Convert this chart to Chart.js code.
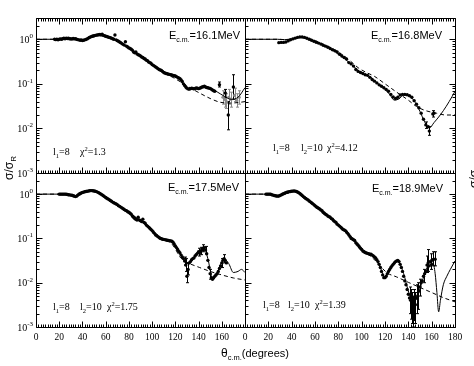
<!DOCTYPE html>
<html>
<head>
<meta charset="utf-8">
<script src="https://cdn.jsdelivr.net/npm/chart.js@4.4.0/dist/chart.umd.min.js"></script>
<style>
  html, body { margin: 0; padding: 0; background: #fff; }
  #wrap { position: relative; width: 474px; height: 366px; overflow: hidden; background: #fff; }
  #wrap canvas { position: absolute; left: 0; top: 0; }
</style>
</head>
<body>
<div id="wrap">
  <canvas id="p1" width="474" height="366"></canvas>
  <canvas id="p2" width="474" height="366"></canvas>
  <canvas id="p3" width="474" height="366"></canvas>
  <canvas id="p4" width="474" height="366"></canvas>
</div>
<script>
// axis ticks / labels
const xLabelsLeft = [0, 20, 40, 60, 80, 100, 120, 140, 160];
const xLabelsRight = [0, 20, 40, 60, 80, 100, 120, 140, 160, 180];
const yDecades = [0, -1, -2, -3];
const energies = ['16.1', '16.8', '17.5', '18.9'];
const chi2 = ['1.3', '4.12', '1.75', '1.39'];

// 16.1 MeV
const p1Points = [[16,1.0],[17,0.98],[18,1.01],[19,0.97],[20,1.0],[21,1.02],[22,1.0],[23,1.03],[24,1.05],[25,1.03],[26,1.06],[27,1.04],[28,1.05],[29,1.02],[30,1.03],[31,1.01],[32,1.04],[33,1.02],[34,1.03],[35,1.0],[36,0.98],[37,0.97],[38,0.95],[39,0.96],[40,0.94],[41,0.95],[42,0.97],[43,0.99],[44,1.02],[45,1.06],[46,1.1],[47,1.13],[48,1.16],[49,1.18],[50,1.2],[51,1.22],[52,1.24],[53,1.25],[54,1.27],[55,1.28],[56,1.26],[57,1.3],[58,1.22],[59,1.2],[60,1.17],[61,1.15],[62,1.12],[63,1.1],[64,1.08],[65,1.06],[66,1.03],[67,1.0],[68,1.25],[69,0.97],[70,0.93],[71,0.9],[72,0.87],[73,0.84],[74,0.8],[75,0.77],[76,0.74],[77,0.88],[78,0.7],[79,0.67],[80,0.64],[81,0.62],[82,0.6],[83,0.57],[84,0.52],[85,0.5],[86,0.52],[87,0.47],[88,0.45],[89,0.44],[90,0.42],[91,0.4],[92,0.39],[93,0.37],[94,0.36],[95,0.34],[96,0.33],[97,0.31],[98,0.3],[99,0.29],[100,0.27],[101,0.26],[102,0.25],[103,0.24],[104,0.23],[105,0.22],[106,0.21],[107,0.205],[108,0.2],[109,0.19],[110,0.18],[111,0.175],[112,0.17],[113,0.168],[114,0.165],[115,0.163],[116,0.16],[117,0.158],[118,0.155],[119,0.152],[120,0.15],[121,0.145],[122,0.14],[123,0.135],[124,0.13],[125,0.122],[126,0.113],[127,0.1],[128,0.092],[129,0.085],[130,0.08],[131,0.077],[132,0.076],[133,0.078],[134,0.08],[135,0.079],[136,0.077],[137,0.079],[138,0.081],[139,0.08],[140,0.078],[141,0.08],[142,0.082],[143,0.085],[144,0.086],[145,0.088],[146,0.085],[147,0.083],[148,0.082],[149,0.08],[150,0.079],[151,0.076],[152,0.073],[153,0.07],[154,0.068],[158,0.096],[163,0.062],[165.6,0.02],[170,0.085]];
const p1Grey = [[161,0.05],[162.5,0.045],[164,0.04],[166,0.05],[168,0.045],[171,0.055],[173,0.042],[175,0.05]];
const p1Errors = [[158,0.085,0.11],[163,0.05,0.075],[165.6,0.0093,0.04],[170,0.045,0.16]];
const p1GreyErrors = [[161,0.035,0.07],[162.5,0.03,0.065],[164,0.028,0.06],[166,0.035,0.075],[168,0.03,0.065],[171,0.04,0.08],[173,0.03,0.06],[175,0.035,0.07]];
const p1Solid = [[0,1.0],[16,1.0],[22,1.03],[28,1.04],[34,1.01],[40,0.95],[44,0.99],[48,1.12],[52,1.21],[56,1.25],[60,1.17],[66,1.02],[72,0.86],[78,0.7],[84,0.54],[90,0.42],[96,0.33],[102,0.25],[108,0.2],[114,0.165],[120,0.15],[124,0.13],[128,0.093],[132,0.077],[138,0.08],[144,0.085],[150,0.079],[156,0.066],[162,0.053],[168,0.045],[174,0.05],[180,0.082]];
const p1Dashed = [[0,1.0],[16,1.0],[30,1.02],[40,0.97],[48,1.1],[55,1.2],[62,1.12],[70,0.9],[80,0.62],[90,0.42],[100,0.28],[107,0.2],[120,0.13],[130,0.09],[140,0.064],[150,0.047],[158,0.039],[166,0.037],[174,0.038],[180,0.04]];

// 16.8 MeV
const p2Points = [[29,0.84],[31,0.85],[33,0.85],[35,0.87],[37,0.92],[39,0.97],[41,1.02],[43,1.06],[45,1.1],[47,1.12],[49,1.12],[51,1.1],[53,1.05],[55,1.0],[57,0.95],[59,0.9],[61,0.86],[63,0.82],[65,0.78],[67,0.73],[69,0.7],[71,0.66],[73,0.62],[75,0.58],[77,0.55],[79,0.52],[81,0.46],[83,0.42],[85,0.39],[87,0.36],[89,0.3],[91,0.28],[93,0.25],[95,0.21],[97,0.19],[99,0.18],[101,0.17],[103,0.16],[105,0.155],[107,0.14],[109,0.125],[111,0.115],[113,0.105],[115,0.095],[117,0.088],[119,0.082],[121,0.075],[123,0.068],[125,0.058],[127,0.051],[129,0.047],[131,0.05],[133,0.056],[135,0.058],[137,0.058],[139,0.057],[141,0.054],[143,0.05],[145,0.042],[147,0.035],[149,0.029],[151,0.022],[153,0.016],[155,0.012],[157,0.011],[158,0.0087],[161,0.021],[162,0.022]];
const p2Errors = [[155,0.01,0.014],[158,0.007,0.011],[161,0.018,0.025]];
const p2Solid = [[0,1.0],[20,1.0],[28,1.0],[34,0.98],[40,1.03],[46,1.1],[52,1.08],[58,0.95],[66,0.78],[74,0.6],[82,0.43],[90,0.29],[96,0.21],[100,0.17],[104,0.155],[108,0.14],[112,0.11],[118,0.085],[124,0.058],[128,0.043],[132,0.046],[136,0.056],[140,0.055],[146,0.038],[150,0.024],[154,0.014],[158,0.0102],[162,0.0135],[166,0.018],[170,0.025],[175,0.04],[180,0.068]];
const p2Dashed = [[0,1.0],[28,1.0],[36,0.98],[42,1.05],[48,1.1],[54,1.05],[60,0.93],[70,0.72],[80,0.52],[90,0.33],[97,0.23],[104,0.18],[111,0.147],[120,0.1],[130,0.065],[140,0.043],[147,0.031],[155,0.025],[164,0.022],[172,0.02],[180,0.02]];

// 17.5 MeV
const p3Points = [[20,1.0],[21,1.0],[22,1.0],[23,1.0],[24,1.0],[25,1.0],[26,0.99],[27,0.98],[28,0.97],[29,0.96],[30,0.95],[31,0.94],[32,0.92],[33,0.9],[34,0.88],[35,0.9],[36,0.95],[37,1.0],[38,1.04],[39,1.07],[40,1.09],[41,1.11],[42,1.13],[43,1.15],[44,1.16],[45,1.17],[46,1.19],[47,1.2],[48,1.2],[49,1.19],[50,1.18],[51,1.16],[52,1.14],[53,1.11],[54,1.08],[55,1.04],[56,1.0],[57,0.96],[58,0.92],[59,0.88],[60,0.84],[61,0.81],[62,0.78],[63,0.75],[64,0.72],[65,0.69],[66,0.66],[67,0.64],[68,0.62],[69,0.6],[70,0.58],[71,0.55],[72,0.53],[73,0.51],[74,0.49],[75,0.47],[76,0.45],[77,0.43],[78,0.42],[79,0.4],[80,0.39],[81,0.37],[82,0.35],[83,0.32],[84,0.3],[85,0.28],[86,0.27],[87,0.26],[88,0.3],[89,0.26],[90,0.25],[91,0.24],[92,0.27],[93,0.23],[94,0.22],[95,0.2],[96,0.19],[97,0.18],[98,0.17],[99,0.16],[100,0.15],[101,0.14],[102,0.13],[103,0.12],[104,0.115],[105,0.11],[106,0.105],[107,0.1],[108,0.098],[109,0.096],[110,0.095],[111,0.094],[112,0.092],[113,0.091],[114,0.09],[115,0.089],[116,0.088],[117,0.086],[118,0.082],[119,0.075],[120,0.068],[121,0.062],[122,0.056],[123,0.051],[124,0.047],[125,0.042],[126,0.038],[127,0.035],[128,0.031],[129,0.025],[130,0.014],[131,0.02],[132,0.028],[133,0.03],[134,0.033],[135,0.035],[136,0.036],[137,0.04],[138,0.043],[139,0.046],[140,0.05],[141,0.048],[142,0.052],[143,0.056],[144,0.06],[145,0.062],[146,0.055],[147,0.045],[148,0.032],[149,0.022],[150,0.016],[151,0.013],[152,0.012],[153,0.013],[154,0.014],[155,0.015],[156,0.016],[157,0.018],[158,0.021],[159,0.024],[160,0.028],[161,0.032],[162,0.035],[163,0.032],[164,0.028]];
const p3Errors = [[128,0.025,0.038],[129,0.018,0.035],[130,0.01,0.02],[131,0.015,0.027],[140,0.04,0.06],[142,0.043,0.063],[144,0.05,0.072],[146,0.045,0.066],[150,0.012,0.02],[160,0.022,0.035],[162,0.028,0.043]];
const p3Solid = [[0,1.0],[20,1.0],[28,0.97],[33,0.89],[38,1.0],[44,1.14],[48,1.18],[52,1.14],[58,0.93],[66,0.66],[74,0.49],[82,0.35],[88,0.27],[92,0.24],[98,0.17],[104,0.115],[110,0.095],[116,0.088],[120,0.07],[124,0.045],[128,0.031],[131,0.027],[134,0.032],[140,0.046],[145,0.06],[148,0.035],[152,0.013],[156,0.017],[162,0.034],[166,0.027],[170,0.017],[174,0.018],[177,0.02],[180,0.017]];
const p3Dashed = [[0,1.0],[20,1.0],[30,0.96],[36,0.93],[44,1.14],[50,1.17],[58,0.93],[70,0.58],[80,0.39],[90,0.25],[100,0.15],[110,0.095],[116,0.08],[120,0.058],[124,0.038],[130,0.029],[141,0.022],[150,0.018],[160,0.015],[170,0.0128],[180,0.0115]];

// 18.9 MeV
const p4Points = [[18,1.0],[19,1.0],[20,1.0],[21,1.0],[22,0.99],[23,0.97],[24,0.95],[25,0.93],[26,0.92],[27,0.91],[28,0.9],[29,0.91],[30,0.93],[31,0.96],[32,0.99],[33,1.02],[34,1.05],[35,1.08],[36,1.1],[37,1.12],[38,1.14],[39,1.15],[40,1.16],[41,1.17],[42,1.18],[43,1.17],[44,1.15],[45,1.12],[46,1.08],[47,1.03],[48,0.98],[49,0.93],[50,0.88],[51,0.84],[52,0.8],[53,0.77],[54,0.74],[55,0.7],[56,0.67],[57,0.64],[58,0.61],[59,0.58],[60,0.55],[61,0.52],[62,0.5],[63,0.48],[64,0.46],[65,0.44],[66,0.42],[67,0.39],[68,0.37],[69,0.35],[70,0.34],[71,0.32],[72,0.31],[73,0.3],[74,0.28],[75,0.27],[76,0.25],[77,0.24],[78,0.23],[79,0.21],[80,0.2],[81,0.19],[82,0.18],[83,0.17],[84,0.16],[85,0.155],[86,0.15],[87,0.14],[88,0.13],[89,0.12],[90,0.11],[91,0.1],[92,0.097],[93,0.093],[94,0.09],[95,0.08],[96,0.075],[97,0.07],[98,0.065],[99,0.06],[100,0.056],[101,0.052],[102,0.05],[103,0.048],[104,0.047],[105,0.046],[106,0.045],[107,0.044],[108,0.044],[109,0.042],[110,0.04],[111,0.038],[112,0.036],[113,0.033],[114,0.03],[115,0.026],[116,0.022],[117,0.018],[118,0.015],[119,0.013],[120,0.013],[121,0.014],[122,0.016],[123,0.018],[124,0.02],[125,0.022],[126,0.024],[127,0.026],[128,0.028],[129,0.03],[130,0.031],[131,0.032],[132,0.03],[133,0.026],[134,0.022],[135,0.018],[136,0.014],[137,0.011],[138,0.009],[139,0.007],[140,0.0055],[141,0.0045],[142,0.004],[143,0.003],[144,0.0028],[145,0.0035],[146,0.0032],[147,0.0045],[148,0.005],[149,0.0065],[150,0.008],[151,0.01],[152,0.011],[153,0.014],[154,0.016],[155,0.018],[156,0.025],[157,0.028],[158,0.024],[159,0.03],[160,0.026],[161,0.033],[163,0.034]];
const p4Errors = [[141,0.002,0.008],[142,0.0015,0.007],[143,0.0012,0.006],[144,0.001,0.005],[145,0.0014,0.007],[146,0.0012,0.006],[147,0.002,0.009],[148,0.0025,0.01],[150,0.005,0.012],[153,0.01,0.02],[156,0.017,0.04],[157,0.018,0.056],[159,0.02,0.045],[161,0.024,0.05],[163,0.024,0.05]];
const p4Solid = [[0,1.0],[18,1.0],[24,0.97],[28,0.91],[34,1.0],[42,1.17],[48,1.0],[56,0.68],[66,0.42],[76,0.25],[86,0.15],[94,0.09],[100,0.058],[106,0.045],[112,0.035],[116,0.022],[120,0.013],[124,0.019],[131,0.031],[136,0.016],[140,0.0065],[144,0.0035],[148,0.005],[152,0.011],[156,0.022],[159,0.033],[161,0.03],[163,0.016],[164.5,0.006],[166,0.0022],[167.5,0.004],[170,0.009],[173,0.014],[176,0.02],[180,0.031]];
const p4Dashed = [[0,1.0],[18,1.0],[28,0.92],[34,1.0],[42,1.16],[48,1.0],[60,0.56],[70,0.34],[80,0.2],[90,0.11],[100,0.058],[110,0.035],[122,0.0166],[130,0.0135],[140,0.0102],[150,0.0078],[160,0.006],[170,0.0046],[180,0.0037]];

const SERIF = '"Liberation Serif", "DejaVu Serif", serif';
const SANS = '"Liberation Sans", Arial, sans-serif';

const panels = {
  p1: { pad: {left: 36, right: 229, top: 18, bottom: 193}, top: true, right: false, yLab: true, xLab: null,
        energy: energies[0], ex: 240, ey: 39, params: [[53, 'l', '1', '=8'], [80, 'chi', '2', '=' + chi2[0]]], py: 155,
        errors: p1Errors, greyErrors: p1GreyErrors },
  p2: { pad: {left: 245, right: 19, top: 18, bottom: 193}, top: true, right: true, yLab: false, xLab: null,
        energy: energies[1], ex: 442, ey: 39, params: [[273, 'l', '1', '=8'], [301, 'l', '2', '=10'], [327, 'chi', '2', '=' + chi2[1]]], py: 151,
        errors: p2Errors },
  p3: { pad: {left: 36, right: 229, top: 173, bottom: 39}, top: false, right: false, yLab: true, xLab: xLabelsLeft,
        energy: energies[2], ex: 239, ey: 191, params: [[53, 'l', '1', '=8'], [80, 'l', '2', '=10'], [107, 'chi', '2', '=' + chi2[2]]], py: 310,
        errors: p3Errors },
  p4: { pad: {left: 245, right: 19, top: 173, bottom: 39}, top: false, right: true, yLab: false, xLab: xLabelsRight,
        energy: energies[3], ex: 443, ey: 192, params: [[263, 'l', '1', '=8'], [288, 'l', '2', '=10'], [315, 'chi', '2', '=' + chi2[3]]], py: 308,
        errors: p4Errors }
};

function rich(ctx, x, y, parts, family, align) {
  let w = 0;
  parts.forEach(p => { ctx.font = p[1] + 'px ' + family; w += ctx.measureText(p[0]).width; });
  let cx = align === 'right' ? x - w : (align === 'center' ? x - w / 2 : x);
  parts.forEach(p => {
    ctx.font = p[1] + 'px ' + family;
    ctx.fillText(p[0], cx, y + (p[2] || 0));
    cx += ctx.measureText(p[0]).width;
  });
}

function bars(ctx, xs, ys, list, color) {
  ctx.strokeStyle = color;
  ctx.lineWidth = 1;
  list.forEach(e => {
    const px = Math.round(xs.getPixelForValue(e[0])) + 0.5;
    const y1 = ys.getPixelForValue(e[1]), y2 = ys.getPixelForValue(e[2]);
    ctx.beginPath();
    ctx.moveTo(px, y1); ctx.lineTo(px, y2);
    ctx.moveTo(px - 1.5, y1); ctx.lineTo(px + 1.5, y1);
    ctx.moveTo(px - 1.5, y2); ctx.lineTo(px + 1.5, y2);
    ctx.stroke();
  });
}

const framePlugin = {
  id: 'frame',
  beforeDatasetsDraw(chart) {
    const P = panels[chart.canvas.id];
    const ctx = chart.ctx, xs = chart.scales.x, ys = chart.scales.y, a = chart.chartArea;
    ctx.save();
    ctx.beginPath(); ctx.rect(a.left, a.top, a.right - a.left, a.bottom - a.top); ctx.clip();
    if (P.greyErrors) bars(ctx, xs, ys, P.greyErrors, '#8a8a8a');
    bars(ctx, xs, ys, P.errors, '#000');
    ctx.restore();
  },
  afterDraw(chart) {
    const P = panels[chart.canvas.id];
    const ctx = chart.ctx, xs = chart.scales.x, ys = chart.scales.y, a = chart.chartArea;
    const L = Math.round(a.left) + 0.5, R = Math.round(a.right) + 0.5;
    const T = Math.round(a.top) + 0.5, B = Math.round(a.bottom) + 0.5;
    ctx.save();
    ctx.strokeStyle = '#000';
    ctx.lineWidth = 1;
    ctx.beginPath();
    ctx.moveTo(L, T); ctx.lineTo(R, T); ctx.lineTo(R, B); ctx.lineTo(L, B); ctx.closePath();
    // x ticks, inward
    for (let v = 0; v <= 180; v += 2) {
      const px = Math.round(xs.getPixelForValue(v)) + 0.5;
      const len = v % 20 === 0 ? 6 : 3;
      ctx.moveTo(px, B); ctx.lineTo(px, B - len);
      if (P.top) { ctx.moveTo(px, T); ctx.lineTo(px, T + len); }
    }
    // y ticks, inward
    yDecades.forEach(d => {
      for (let k = 1; k <= 9; k++) {
        const v = k * Math.pow(10, d);
        if (v > 3.001) break;
        const py = Math.round(ys.getPixelForValue(v)) + 0.5;
        const len = k === 1 ? 6 : 3;
        ctx.moveTo(L, py); ctx.lineTo(L + len, py);
        if (P.right) { ctx.moveTo(R, py); ctx.lineTo(R - len, py); }
      }
    });
    ctx.stroke();

    ctx.fillStyle = '#000';
    ctx.textBaseline = 'alphabetic';
    if (P.yLab) {
      yDecades.forEach(d => {
        const py = ys.getPixelForValue(Math.pow(10, d));
        rich(ctx, 33, py + 3.5, [['10', 10], [String(d), 7, -4.5]], SERIF, 'right');
      });
    }
    if (P.xLab) {
      P.xLab.forEach(v => {
        rich(ctx, xs.getPixelForValue(v), 340, [[String(v), 9.5]], SERIF, 'center');
      });
    }
    // energy label
    rich(ctx, P.ex, P.ey, [['E', 11], ['c.m.', 7, 3], ['=' + P.energy + 'MeV', 11]], SANS, 'right');
    // parameters
    P.params.forEach(p => {
      const sym = p[1] === 'chi' ? 'χ' : 'l';
      const dy = p[1] === 'chi' ? -4.5 : 2.5;
      rich(ctx, p[0], P.py, [[sym, 10], [p[2], 6.5, dy], [p[3], 10]], SERIF, 'left');
    });

    if (chart.canvas.id === 'p4') {
      // axis titles
      rich(ctx, 221, 357, [['θ', 12], ['c.m.', 7.5, 3], ['(degrees)', 11]], SANS, 'left');
      ctx.save();
      ctx.translate(13, 168); ctx.rotate(-Math.PI / 2);
      rich(ctx, 0, 0, [['σ/σ', 12], ['R', 8, 3]], SANS, 'center');
      ctx.restore();
      ctx.save();
      ctx.translate(478, 176); ctx.rotate(-Math.PI / 2);
      rich(ctx, 0, 0, [['σ/σ', 12], ['R', 8, 3]], SANS, 'center');
      ctx.restore();
    }
    ctx.restore();
  }
};
Chart.register(framePlugin);

const toXY = arr => arr.map(p => ({x: p[0], y: p[1]}));

function makeChart(id, pts, solid, dashed, grey) {
  const sets = [
    { data: toXY(pts), showLine: false, pointRadius: 1.7, pointBorderWidth: 0, pointBackgroundColor: '#000' },
    { data: toXY(solid), showLine: true, borderColor: '#000', borderWidth: 1, pointRadius: 0, cubicInterpolationMode: 'monotone' },
    { data: toXY(dashed), showLine: true, borderColor: '#000', borderWidth: 1, borderDash: [4, 3], pointRadius: 0, cubicInterpolationMode: 'monotone' }
  ];
  if (grey) sets.push({ data: toXY(grey), showLine: false, pointRadius: 1.6, pointBorderWidth: 0, pointBackgroundColor: '#8a8a8a' });
  return new Chart(document.getElementById(id), {
    type: 'scatter',
    data: { datasets: sets },
    options: {
      responsive: false,
      animation: false,
      events: [],
      layout: { padding: panels[id].pad },
      scales: {
        x: { type: 'linear', min: 0, max: 180, display: false },
        y: { type: 'logarithmic', min: 0.001, max: 3, display: false }
      },
      plugins: { legend: { display: false }, tooltip: { enabled: false } }
    }
  });
}

makeChart('p1', p1Points, p1Solid, p1Dashed, p1Grey);
makeChart('p2', p2Points, p2Solid, p2Dashed);
makeChart('p3', p3Points, p3Solid, p3Dashed);
makeChart('p4', p4Points, p4Solid, p4Dashed);
</script>
</body>
</html>
